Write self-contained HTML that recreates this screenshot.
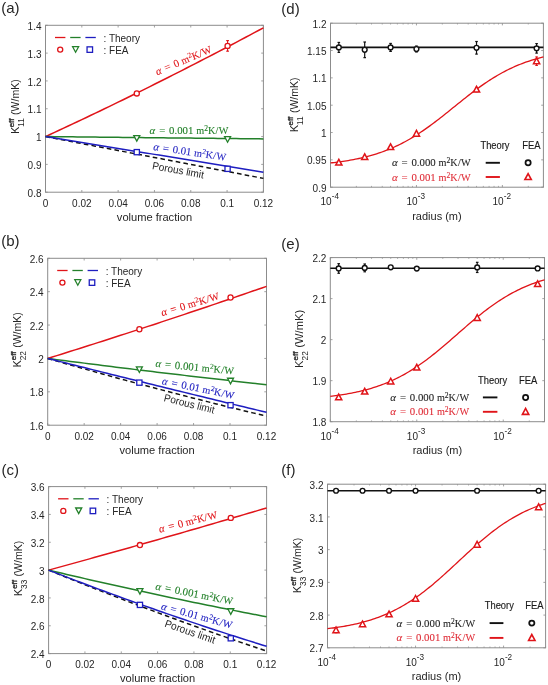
<!DOCTYPE html>
<html><head><meta charset="utf-8"><style>html,body{margin:0;padding:0;background:#fff;}svg{display:block;}</style></head>
<body><svg width="548" height="685" viewBox="0 0 548 685"><text x="1.20" y="12.90" font-family="'Liberation Sans', Arial, sans-serif" font-size="15" fill="#262626" text-anchor="start" >(a)</text>
<line x1="45.50" y1="192.20" x2="45.50" y2="190.00" stroke="#8c8c8c" stroke-width="0.8"/>
<line x1="45.50" y1="25.30" x2="45.50" y2="27.50" stroke="#8c8c8c" stroke-width="0.8"/>
<line x1="81.82" y1="192.20" x2="81.82" y2="190.00" stroke="#8c8c8c" stroke-width="0.8"/>
<line x1="81.82" y1="25.30" x2="81.82" y2="27.50" stroke="#8c8c8c" stroke-width="0.8"/>
<line x1="118.13" y1="192.20" x2="118.13" y2="190.00" stroke="#8c8c8c" stroke-width="0.8"/>
<line x1="118.13" y1="25.30" x2="118.13" y2="27.50" stroke="#8c8c8c" stroke-width="0.8"/>
<line x1="154.45" y1="192.20" x2="154.45" y2="190.00" stroke="#8c8c8c" stroke-width="0.8"/>
<line x1="154.45" y1="25.30" x2="154.45" y2="27.50" stroke="#8c8c8c" stroke-width="0.8"/>
<line x1="190.77" y1="192.20" x2="190.77" y2="190.00" stroke="#8c8c8c" stroke-width="0.8"/>
<line x1="190.77" y1="25.30" x2="190.77" y2="27.50" stroke="#8c8c8c" stroke-width="0.8"/>
<line x1="227.08" y1="192.20" x2="227.08" y2="190.00" stroke="#8c8c8c" stroke-width="0.8"/>
<line x1="227.08" y1="25.30" x2="227.08" y2="27.50" stroke="#8c8c8c" stroke-width="0.8"/>
<line x1="263.40" y1="192.20" x2="263.40" y2="190.00" stroke="#8c8c8c" stroke-width="0.8"/>
<line x1="263.40" y1="25.30" x2="263.40" y2="27.50" stroke="#8c8c8c" stroke-width="0.8"/>
<line x1="45.50" y1="192.20" x2="47.70" y2="192.20" stroke="#8c8c8c" stroke-width="0.8"/>
<line x1="263.40" y1="192.20" x2="261.20" y2="192.20" stroke="#8c8c8c" stroke-width="0.8"/>
<line x1="45.50" y1="164.38" x2="47.70" y2="164.38" stroke="#8c8c8c" stroke-width="0.8"/>
<line x1="263.40" y1="164.38" x2="261.20" y2="164.38" stroke="#8c8c8c" stroke-width="0.8"/>
<line x1="45.50" y1="136.57" x2="47.70" y2="136.57" stroke="#8c8c8c" stroke-width="0.8"/>
<line x1="263.40" y1="136.57" x2="261.20" y2="136.57" stroke="#8c8c8c" stroke-width="0.8"/>
<line x1="45.50" y1="108.75" x2="47.70" y2="108.75" stroke="#8c8c8c" stroke-width="0.8"/>
<line x1="263.40" y1="108.75" x2="261.20" y2="108.75" stroke="#8c8c8c" stroke-width="0.8"/>
<line x1="45.50" y1="80.93" x2="47.70" y2="80.93" stroke="#8c8c8c" stroke-width="0.8"/>
<line x1="263.40" y1="80.93" x2="261.20" y2="80.93" stroke="#8c8c8c" stroke-width="0.8"/>
<line x1="45.50" y1="53.12" x2="47.70" y2="53.12" stroke="#8c8c8c" stroke-width="0.8"/>
<line x1="263.40" y1="53.12" x2="261.20" y2="53.12" stroke="#8c8c8c" stroke-width="0.8"/>
<line x1="45.50" y1="25.30" x2="47.70" y2="25.30" stroke="#8c8c8c" stroke-width="0.8"/>
<line x1="263.40" y1="25.30" x2="261.20" y2="25.30" stroke="#8c8c8c" stroke-width="0.8"/>
<rect x="45.50" y="25.30" width="217.90" height="166.90" fill="none" stroke="#8c8c8c" stroke-width="1"/>
<text x="41.50" y="196.80" font-family="'Liberation Sans', Arial, sans-serif" font-size="10" fill="#262626" text-anchor="end" >0.8</text>
<text x="41.50" y="168.98" font-family="'Liberation Sans', Arial, sans-serif" font-size="10" fill="#262626" text-anchor="end" >0.9</text>
<text x="41.50" y="141.17" font-family="'Liberation Sans', Arial, sans-serif" font-size="10" fill="#262626" text-anchor="end" >1</text>
<text x="41.50" y="113.35" font-family="'Liberation Sans', Arial, sans-serif" font-size="10" fill="#262626" text-anchor="end" >1.1</text>
<text x="41.50" y="85.53" font-family="'Liberation Sans', Arial, sans-serif" font-size="10" fill="#262626" text-anchor="end" >1.2</text>
<text x="41.50" y="57.72" font-family="'Liberation Sans', Arial, sans-serif" font-size="10" fill="#262626" text-anchor="end" >1.3</text>
<text x="41.50" y="29.90" font-family="'Liberation Sans', Arial, sans-serif" font-size="10" fill="#262626" text-anchor="end" >1.4</text>
<text x="45.50" y="206.80" font-family="'Liberation Sans', Arial, sans-serif" font-size="10" fill="#262626" text-anchor="middle" >0</text>
<text x="81.82" y="206.80" font-family="'Liberation Sans', Arial, sans-serif" font-size="10" fill="#262626" text-anchor="middle" >0.02</text>
<text x="118.13" y="206.80" font-family="'Liberation Sans', Arial, sans-serif" font-size="10" fill="#262626" text-anchor="middle" >0.04</text>
<text x="154.45" y="206.80" font-family="'Liberation Sans', Arial, sans-serif" font-size="10" fill="#262626" text-anchor="middle" >0.06</text>
<text x="190.77" y="206.80" font-family="'Liberation Sans', Arial, sans-serif" font-size="10" fill="#262626" text-anchor="middle" >0.08</text>
<text x="227.08" y="206.80" font-family="'Liberation Sans', Arial, sans-serif" font-size="10" fill="#262626" text-anchor="middle" >0.1</text>
<text x="263.40" y="206.80" font-family="'Liberation Sans', Arial, sans-serif" font-size="10" fill="#262626" text-anchor="middle" >0.12</text>
<text x="154.45" y="220.80" font-family="'Liberation Sans', Arial, sans-serif" font-size="11.1" fill="#262626" text-anchor="middle" >volume fraction</text>
<text transform="translate(18.80,133.80) rotate(-90)" font-family="'Liberation Sans', Arial, sans-serif" font-size="10.5" fill="#262626">K<tspan font-size="8.3" dy="5.0">11</tspan><tspan font-size="8.0" dx="-9.2" dy="-9.9" stroke="#262626" stroke-width="0.3">eff</tspan><tspan dy="5.1" dx="0.8"> (W/mK)</tspan></text>
<polyline points="45.50,136.57 50.04,137.44 54.58,138.31 59.12,139.18 63.66,140.05 68.20,140.92 72.74,141.79 77.28,142.66 81.82,143.53 86.36,144.41 90.90,145.28 95.44,146.15 99.97,147.02 104.51,147.89 109.05,148.76 113.59,149.63 118.13,150.50 122.67,151.37 127.21,152.24 131.75,153.12 136.29,153.99 140.83,154.86 145.37,155.73 149.91,156.60 154.45,157.47 158.99,158.34 163.53,159.21 168.07,160.08 172.61,160.95 177.15,161.83 181.69,162.70 186.23,163.57 190.77,164.44 195.31,165.31 199.85,166.18 204.39,167.05 208.93,167.92 213.46,168.79 218.00,169.67 222.54,170.54 227.08,171.41 231.62,172.28 236.16,173.15 240.70,174.02 245.24,174.89 249.78,175.76 254.32,176.63 258.86,177.50 263.40,178.38" fill="none" stroke="#111111" stroke-width="1.5" stroke-dasharray="4.6,3.2"/>
<polyline points="45.50,136.57 50.04,134.47 54.58,132.37 59.12,130.26 63.66,128.14 68.20,126.02 72.74,123.89 77.28,121.75 81.82,119.61 86.36,117.45 90.90,115.29 95.44,113.12 99.97,110.95 104.51,108.77 109.05,106.58 113.59,104.38 118.13,102.18 122.67,99.97 127.21,97.75 131.75,95.52 136.29,93.29 140.83,91.05 145.37,88.80 149.91,86.55 154.45,84.29 158.99,82.02 163.53,79.74 168.07,77.46 172.61,75.17 177.15,72.87 181.69,70.56 186.23,68.25 190.77,65.93 195.31,63.60 199.85,61.27 204.39,58.93 208.93,56.58 213.46,54.22 218.00,51.86 222.54,49.49 227.08,47.11 231.62,44.72 236.16,42.33 240.70,39.93 245.24,37.52 249.78,35.11 254.32,32.69 258.86,30.26 263.40,27.82" fill="none" stroke="#e01419" stroke-width="1.5"/>
<polyline points="45.50,136.57 50.04,136.62 54.58,136.66 59.12,136.71 63.66,136.76 68.20,136.81 72.74,136.86 77.28,136.91 81.82,136.96 86.36,137.00 90.90,137.05 95.44,137.10 99.97,137.15 104.51,137.20 109.05,137.25 113.59,137.30 118.13,137.35 122.67,137.39 127.21,137.44 131.75,137.49 136.29,137.54 140.83,137.59 145.37,137.64 149.91,137.69 154.45,137.73 158.99,137.78 163.53,137.83 168.07,137.88 172.61,137.93 177.15,137.98 181.69,138.03 186.23,138.08 190.77,138.12 195.31,138.17 199.85,138.22 204.39,138.27 208.93,138.32 213.46,138.37 218.00,138.42 222.54,138.47 227.08,138.51 231.62,138.56 236.16,138.61 240.70,138.66 245.24,138.71 249.78,138.76 254.32,138.81 258.86,138.85 263.40,138.90" fill="none" stroke="#23802a" stroke-width="1.5"/>
<polyline points="45.50,136.57 50.04,137.31 54.58,138.05 59.12,138.79 63.66,139.53 68.20,140.28 72.74,141.02 77.28,141.76 81.82,142.50 86.36,143.24 90.90,143.98 95.44,144.73 99.97,145.47 104.51,146.21 109.05,146.95 113.59,147.69 118.13,148.44 122.67,149.18 127.21,149.92 131.75,150.66 136.29,151.40 140.83,152.14 145.37,152.89 149.91,153.63 154.45,154.37 158.99,155.11 163.53,155.85 168.07,156.60 172.61,157.34 177.15,158.08 181.69,158.82 186.23,159.56 190.77,160.30 195.31,161.05 199.85,161.79 204.39,162.53 208.93,163.27 213.46,164.01 218.00,164.76 222.54,165.50 227.08,166.24 231.62,166.98 236.16,167.72 240.70,168.46 245.24,169.21 249.78,169.95 254.32,170.69 258.86,171.43 263.40,172.17" fill="none" stroke="#1e1ec0" stroke-width="1.5"/>
<circle cx="136.79" cy="93.45" r="2.55" fill="white" stroke="#e01419" stroke-width="1.3"/>
<line x1="227.58" y1="40.60" x2="227.58" y2="51.17" stroke="#e01419" stroke-width="1.1"/>
<line x1="226.18" y1="40.60" x2="228.98" y2="40.60" stroke="#e01419" stroke-width="1.1"/>
<line x1="226.18" y1="51.17" x2="228.98" y2="51.17" stroke="#e01419" stroke-width="1.1"/>
<circle cx="227.58" cy="45.88" r="2.55" fill="white" stroke="#e01419" stroke-width="1.3"/>
<polygon points="133.79,135.56 139.79,135.56 136.79,141.11" fill="white" stroke="#23802a" stroke-width="1.3" stroke-linejoin="miter"/>
<polygon points="224.58,136.67 230.58,136.67 227.58,142.22" fill="white" stroke="#23802a" stroke-width="1.3" stroke-linejoin="miter"/>
<rect x="134.19" y="149.54" width="5.20" height="5.20" fill="white" stroke="#1e1ec0" stroke-width="1.3"/>
<rect x="224.98" y="166.23" width="5.20" height="5.20" fill="white" stroke="#1e1ec0" stroke-width="1.3"/>
<line x1="55.00" y1="37.50" x2="65.40" y2="37.50" stroke="#e01419" stroke-width="1.3"/>
<line x1="70.20" y1="37.50" x2="80.60" y2="37.50" stroke="#23802a" stroke-width="1.3"/>
<line x1="85.40" y1="37.50" x2="95.80" y2="37.50" stroke="#1e1ec0" stroke-width="1.3"/>
<circle cx="60.20" cy="49.60" r="2.55" fill="white" stroke="#e01419" stroke-width="1.3"/>
<polygon points="72.60,46.70 78.60,46.70 75.60,52.25" fill="white" stroke="#23802a" stroke-width="1.3" stroke-linejoin="miter"/>
<rect x="87.05" y="46.85" width="5.50" height="5.50" fill="white" stroke="#1e1ec0" stroke-width="1.3"/>
<text x="103.50" y="41.90" font-family="'Liberation Sans', Arial, sans-serif" font-size="10" fill="#262626" text-anchor="start" >: Theory</text>
<text x="103.50" y="54.00" font-family="'Liberation Sans', Arial, sans-serif" font-size="10" fill="#262626" text-anchor="start" >: FEA</text>
<text transform="translate(157.20,75.40) rotate(-23.00)" font-family="'Liberation Serif', 'DejaVu Serif', serif" font-size="10.8" fill="#e01419" stroke="#e01419" stroke-width="0.1"><tspan x="0" font-style="italic">α</tspan><tspan x="9.7">=</tspan><tspan x="19.5">0</tspan><tspan x="27.70" font-size="10.21">m</tspan><tspan font-size="7.56" dy="-3.4">2</tspan><tspan dy="3.4" font-size="10.21" letter-spacing="0.3">K/W</tspan></text>
<text transform="translate(149.60,134.30) rotate(0.00)" font-family="'Liberation Serif', 'DejaVu Serif', serif" font-size="10.8" fill="#23802a" stroke="#23802a" stroke-width="0.1"><tspan x="0" font-style="italic">α</tspan><tspan x="9.7">=</tspan><tspan x="19.5">0.001</tspan><tspan x="46.60" font-size="10.21">m</tspan><tspan font-size="7.56" dy="-3.4">2</tspan><tspan dy="3.4" font-size="10.21" letter-spacing="0.3">K/W</tspan></text>
<text transform="translate(152.90,150.00) rotate(8.30)" font-family="'Liberation Serif', 'DejaVu Serif', serif" font-size="10.8" fill="#1e1ec0" stroke="#1e1ec0" stroke-width="0.1"><tspan x="0" font-style="italic">α</tspan><tspan x="9.7">=</tspan><tspan x="19.5">0.01</tspan><tspan x="41.20" font-size="10.21">m</tspan><tspan font-size="7.56" dy="-3.4">2</tspan><tspan dy="3.4" font-size="10.21" letter-spacing="0.3">K/W</tspan></text>
<text transform="translate(151.80,169.00) rotate(10.40)" font-family="'Liberation Sans', Arial, sans-serif" font-size="10.6" fill="#1e1e1e" textLength="52.20" lengthAdjust="spacingAndGlyphs">Porous limit</text>
<text x="1.20" y="246.20" font-family="'Liberation Sans', Arial, sans-serif" font-size="15" fill="#262626" text-anchor="start" >(b)</text>
<line x1="47.70" y1="425.20" x2="47.70" y2="423.00" stroke="#8c8c8c" stroke-width="0.8"/>
<line x1="47.70" y1="258.30" x2="47.70" y2="260.50" stroke="#8c8c8c" stroke-width="0.8"/>
<line x1="84.17" y1="425.20" x2="84.17" y2="423.00" stroke="#8c8c8c" stroke-width="0.8"/>
<line x1="84.17" y1="258.30" x2="84.17" y2="260.50" stroke="#8c8c8c" stroke-width="0.8"/>
<line x1="120.63" y1="425.20" x2="120.63" y2="423.00" stroke="#8c8c8c" stroke-width="0.8"/>
<line x1="120.63" y1="258.30" x2="120.63" y2="260.50" stroke="#8c8c8c" stroke-width="0.8"/>
<line x1="157.10" y1="425.20" x2="157.10" y2="423.00" stroke="#8c8c8c" stroke-width="0.8"/>
<line x1="157.10" y1="258.30" x2="157.10" y2="260.50" stroke="#8c8c8c" stroke-width="0.8"/>
<line x1="193.57" y1="425.20" x2="193.57" y2="423.00" stroke="#8c8c8c" stroke-width="0.8"/>
<line x1="193.57" y1="258.30" x2="193.57" y2="260.50" stroke="#8c8c8c" stroke-width="0.8"/>
<line x1="230.03" y1="425.20" x2="230.03" y2="423.00" stroke="#8c8c8c" stroke-width="0.8"/>
<line x1="230.03" y1="258.30" x2="230.03" y2="260.50" stroke="#8c8c8c" stroke-width="0.8"/>
<line x1="266.50" y1="425.20" x2="266.50" y2="423.00" stroke="#8c8c8c" stroke-width="0.8"/>
<line x1="266.50" y1="258.30" x2="266.50" y2="260.50" stroke="#8c8c8c" stroke-width="0.8"/>
<line x1="47.70" y1="425.20" x2="49.90" y2="425.20" stroke="#8c8c8c" stroke-width="0.8"/>
<line x1="266.50" y1="425.20" x2="264.30" y2="425.20" stroke="#8c8c8c" stroke-width="0.8"/>
<line x1="47.70" y1="391.82" x2="49.90" y2="391.82" stroke="#8c8c8c" stroke-width="0.8"/>
<line x1="266.50" y1="391.82" x2="264.30" y2="391.82" stroke="#8c8c8c" stroke-width="0.8"/>
<line x1="47.70" y1="358.44" x2="49.90" y2="358.44" stroke="#8c8c8c" stroke-width="0.8"/>
<line x1="266.50" y1="358.44" x2="264.30" y2="358.44" stroke="#8c8c8c" stroke-width="0.8"/>
<line x1="47.70" y1="325.06" x2="49.90" y2="325.06" stroke="#8c8c8c" stroke-width="0.8"/>
<line x1="266.50" y1="325.06" x2="264.30" y2="325.06" stroke="#8c8c8c" stroke-width="0.8"/>
<line x1="47.70" y1="291.68" x2="49.90" y2="291.68" stroke="#8c8c8c" stroke-width="0.8"/>
<line x1="266.50" y1="291.68" x2="264.30" y2="291.68" stroke="#8c8c8c" stroke-width="0.8"/>
<line x1="47.70" y1="258.30" x2="49.90" y2="258.30" stroke="#8c8c8c" stroke-width="0.8"/>
<line x1="266.50" y1="258.30" x2="264.30" y2="258.30" stroke="#8c8c8c" stroke-width="0.8"/>
<rect x="47.70" y="258.30" width="218.80" height="166.90" fill="none" stroke="#8c8c8c" stroke-width="1"/>
<text x="43.70" y="429.80" font-family="'Liberation Sans', Arial, sans-serif" font-size="10" fill="#262626" text-anchor="end" >1.6</text>
<text x="43.70" y="396.42" font-family="'Liberation Sans', Arial, sans-serif" font-size="10" fill="#262626" text-anchor="end" >1.8</text>
<text x="43.70" y="363.04" font-family="'Liberation Sans', Arial, sans-serif" font-size="10" fill="#262626" text-anchor="end" >2</text>
<text x="43.70" y="329.66" font-family="'Liberation Sans', Arial, sans-serif" font-size="10" fill="#262626" text-anchor="end" >2.2</text>
<text x="43.70" y="296.28" font-family="'Liberation Sans', Arial, sans-serif" font-size="10" fill="#262626" text-anchor="end" >2.4</text>
<text x="43.70" y="262.90" font-family="'Liberation Sans', Arial, sans-serif" font-size="10" fill="#262626" text-anchor="end" >2.6</text>
<text x="47.70" y="439.80" font-family="'Liberation Sans', Arial, sans-serif" font-size="10" fill="#262626" text-anchor="middle" >0</text>
<text x="84.17" y="439.80" font-family="'Liberation Sans', Arial, sans-serif" font-size="10" fill="#262626" text-anchor="middle" >0.02</text>
<text x="120.63" y="439.80" font-family="'Liberation Sans', Arial, sans-serif" font-size="10" fill="#262626" text-anchor="middle" >0.04</text>
<text x="157.10" y="439.80" font-family="'Liberation Sans', Arial, sans-serif" font-size="10" fill="#262626" text-anchor="middle" >0.06</text>
<text x="193.57" y="439.80" font-family="'Liberation Sans', Arial, sans-serif" font-size="10" fill="#262626" text-anchor="middle" >0.08</text>
<text x="230.03" y="439.80" font-family="'Liberation Sans', Arial, sans-serif" font-size="10" fill="#262626" text-anchor="middle" >0.1</text>
<text x="266.50" y="439.80" font-family="'Liberation Sans', Arial, sans-serif" font-size="10" fill="#262626" text-anchor="middle" >0.12</text>
<text x="157.10" y="453.80" font-family="'Liberation Sans', Arial, sans-serif" font-size="11.1" fill="#262626" text-anchor="middle" >volume fraction</text>
<text transform="translate(20.80,367.30) rotate(-90)" font-family="'Liberation Sans', Arial, sans-serif" font-size="10.5" fill="#262626">K<tspan font-size="8.3" dy="5.0">22</tspan><tspan font-size="8.0" dx="-9.2" dy="-9.9" stroke="#262626" stroke-width="0.3">eff</tspan><tspan dy="5.1" dx="0.8"> (W/mK)</tspan></text>
<polyline points="47.70,358.44 52.26,359.76 56.82,361.07 61.38,362.37 65.93,363.67 70.49,364.97 75.05,366.26 79.61,367.55 84.17,368.83 88.73,370.11 93.28,371.38 97.84,372.65 102.40,373.91 106.96,375.17 111.52,376.42 116.08,377.67 120.63,378.91 125.19,380.15 129.75,381.38 134.31,382.61 138.87,383.84 143.43,385.06 147.98,386.27 152.54,387.48 157.10,388.69 161.66,389.89 166.22,391.08 170.77,392.27 175.33,393.46 179.89,394.64 184.45,395.81 189.01,396.99 193.57,398.15 198.13,399.31 202.68,400.47 207.24,401.62 211.80,402.77 216.36,403.91 220.92,405.05 225.47,406.18 230.03,407.31 234.59,408.43 239.15,409.55 243.71,410.66 248.27,411.77 252.82,412.87 257.38,413.97 261.94,415.07 266.50,416.16" fill="none" stroke="#111111" stroke-width="1.5" stroke-dasharray="4.6,3.2"/>
<polyline points="47.70,358.44 52.26,357.02 56.82,355.60 61.38,354.17 65.93,352.75 70.49,351.31 75.05,349.88 79.61,348.44 84.17,346.99 88.73,345.55 93.28,344.10 97.84,342.64 102.40,341.18 106.96,339.72 111.52,338.26 116.08,336.79 120.63,335.32 125.19,333.84 129.75,332.36 134.31,330.88 138.87,329.40 143.43,327.91 147.98,326.41 152.54,324.92 157.10,323.42 161.66,321.91 166.22,320.40 170.77,318.89 175.33,317.38 179.89,315.86 184.45,314.34 189.01,312.81 193.57,311.28 198.13,309.75 202.68,308.21 207.24,306.68 211.80,305.13 216.36,303.59 220.92,302.03 225.47,300.48 230.03,298.92 234.59,297.36 239.15,295.80 243.71,294.23 248.27,292.66 252.82,291.08 257.38,289.50 261.94,287.92 266.50,286.34" fill="none" stroke="#e01419" stroke-width="1.5"/>
<polyline points="47.70,358.44 52.26,359.03 56.82,359.63 61.38,360.22 65.93,360.80 70.49,361.39 75.05,361.97 79.61,362.55 84.17,363.13 88.73,363.71 93.28,364.29 97.84,364.86 102.40,365.43 106.96,366.00 111.52,366.57 116.08,367.14 120.63,367.70 125.19,368.26 129.75,368.82 134.31,369.38 138.87,369.93 143.43,370.49 147.98,371.04 152.54,371.59 157.10,372.14 161.66,372.68 166.22,373.23 170.77,373.77 175.33,374.31 179.89,374.84 184.45,375.38 189.01,375.91 193.57,376.45 198.13,376.97 202.68,377.50 207.24,378.03 211.80,378.55 216.36,379.07 220.92,379.59 225.47,380.11 230.03,380.62 234.59,381.14 239.15,381.65 243.71,382.16 248.27,382.67 252.82,383.17 257.38,383.67 261.94,384.18 266.50,384.67" fill="none" stroke="#23802a" stroke-width="1.5"/>
<polyline points="47.70,358.44 52.26,359.59 56.82,360.73 61.38,361.88 65.93,363.02 70.49,364.16 75.05,365.31 79.61,366.45 84.17,367.59 88.73,368.72 93.28,369.86 97.84,371.00 102.40,372.13 106.96,373.27 111.52,374.40 116.08,375.53 120.63,376.67 125.19,377.80 129.75,378.92 134.31,380.05 138.87,381.18 143.43,382.31 147.98,383.43 152.54,384.56 157.10,385.68 161.66,386.80 166.22,387.92 170.77,389.04 175.33,390.16 179.89,391.28 184.45,392.39 189.01,393.51 193.57,394.62 198.13,395.74 202.68,396.85 207.24,397.96 211.80,399.07 216.36,400.18 220.92,401.29 225.47,402.40 230.03,403.50 234.59,404.61 239.15,405.71 243.71,406.82 248.27,407.92 252.82,409.02 257.38,410.12 261.94,411.22 266.50,412.32" fill="none" stroke="#1e1ec0" stroke-width="1.5"/>
<circle cx="139.37" cy="329.23" r="2.55" fill="white" stroke="#e01419" stroke-width="1.3"/>
<circle cx="230.53" cy="297.52" r="2.55" fill="white" stroke="#e01419" stroke-width="1.3"/>
<polygon points="136.37,366.89 142.37,366.89 139.37,372.44" fill="white" stroke="#23802a" stroke-width="1.3" stroke-linejoin="miter"/>
<polygon points="227.53,378.24 233.53,378.24 230.53,383.79" fill="white" stroke="#23802a" stroke-width="1.3" stroke-linejoin="miter"/>
<rect x="136.77" y="380.04" width="5.20" height="5.20" fill="white" stroke="#1e1ec0" stroke-width="1.3"/>
<rect x="227.93" y="402.57" width="5.20" height="5.20" fill="white" stroke="#1e1ec0" stroke-width="1.3"/>
<line x1="57.20" y1="270.50" x2="67.60" y2="270.50" stroke="#e01419" stroke-width="1.3"/>
<line x1="72.40" y1="270.50" x2="82.80" y2="270.50" stroke="#23802a" stroke-width="1.3"/>
<line x1="87.60" y1="270.50" x2="98.00" y2="270.50" stroke="#1e1ec0" stroke-width="1.3"/>
<circle cx="62.40" cy="282.60" r="2.55" fill="white" stroke="#e01419" stroke-width="1.3"/>
<polygon points="74.80,279.70 80.80,279.70 77.80,285.25" fill="white" stroke="#23802a" stroke-width="1.3" stroke-linejoin="miter"/>
<rect x="89.25" y="279.85" width="5.50" height="5.50" fill="white" stroke="#1e1ec0" stroke-width="1.3"/>
<text x="105.70" y="274.90" font-family="'Liberation Sans', Arial, sans-serif" font-size="10" fill="#262626" text-anchor="start" >: Theory</text>
<text x="105.70" y="287.00" font-family="'Liberation Sans', Arial, sans-serif" font-size="10" fill="#262626" text-anchor="start" >: FEA</text>
<text transform="translate(162.30,316.30) rotate(-16.70)" font-family="'Liberation Serif', 'DejaVu Serif', serif" font-size="10.8" fill="#e01419" stroke="#e01419" stroke-width="0.1"><tspan x="0" font-style="italic">α</tspan><tspan x="9.7">=</tspan><tspan x="19.5">0</tspan><tspan x="27.70" font-size="10.21">m</tspan><tspan font-size="7.56" dy="-3.4">2</tspan><tspan dy="3.4" font-size="10.21" letter-spacing="0.3">K/W</tspan></text>
<text transform="translate(155.20,366.80) rotate(5.50)" font-family="'Liberation Serif', 'DejaVu Serif', serif" font-size="10.8" fill="#23802a" stroke="#23802a" stroke-width="0.1"><tspan x="0" font-style="italic">α</tspan><tspan x="9.7">=</tspan><tspan x="19.5">0.001</tspan><tspan x="46.60" font-size="10.21">m</tspan><tspan font-size="7.56" dy="-3.4">2</tspan><tspan dy="3.4" font-size="10.21" letter-spacing="0.3">K/W</tspan></text>
<text transform="translate(161.60,384.20) rotate(11.60)" font-family="'Liberation Serif', 'DejaVu Serif', serif" font-size="10.8" fill="#1e1ec0" stroke="#1e1ec0" stroke-width="0.1"><tspan x="0" font-style="italic">α</tspan><tspan x="9.7">=</tspan><tspan x="19.5">0.01</tspan><tspan x="41.20" font-size="10.21">m</tspan><tspan font-size="7.56" dy="-3.4">2</tspan><tspan dy="3.4" font-size="10.21" letter-spacing="0.3">K/W</tspan></text>
<text transform="translate(163.20,401.00) rotate(14.00)" font-family="'Liberation Sans', Arial, sans-serif" font-size="10.6" fill="#1e1e1e" textLength="52.00" lengthAdjust="spacingAndGlyphs">Porous limit</text>
<text x="1.60" y="474.50" font-family="'Liberation Sans', Arial, sans-serif" font-size="15" fill="#262626" text-anchor="start" >(c)</text>
<line x1="48.60" y1="653.60" x2="48.60" y2="651.40" stroke="#8c8c8c" stroke-width="0.8"/>
<line x1="48.60" y1="486.60" x2="48.60" y2="488.80" stroke="#8c8c8c" stroke-width="0.8"/>
<line x1="84.93" y1="653.60" x2="84.93" y2="651.40" stroke="#8c8c8c" stroke-width="0.8"/>
<line x1="84.93" y1="486.60" x2="84.93" y2="488.80" stroke="#8c8c8c" stroke-width="0.8"/>
<line x1="121.27" y1="653.60" x2="121.27" y2="651.40" stroke="#8c8c8c" stroke-width="0.8"/>
<line x1="121.27" y1="486.60" x2="121.27" y2="488.80" stroke="#8c8c8c" stroke-width="0.8"/>
<line x1="157.60" y1="653.60" x2="157.60" y2="651.40" stroke="#8c8c8c" stroke-width="0.8"/>
<line x1="157.60" y1="486.60" x2="157.60" y2="488.80" stroke="#8c8c8c" stroke-width="0.8"/>
<line x1="193.93" y1="653.60" x2="193.93" y2="651.40" stroke="#8c8c8c" stroke-width="0.8"/>
<line x1="193.93" y1="486.60" x2="193.93" y2="488.80" stroke="#8c8c8c" stroke-width="0.8"/>
<line x1="230.27" y1="653.60" x2="230.27" y2="651.40" stroke="#8c8c8c" stroke-width="0.8"/>
<line x1="230.27" y1="486.60" x2="230.27" y2="488.80" stroke="#8c8c8c" stroke-width="0.8"/>
<line x1="266.60" y1="653.60" x2="266.60" y2="651.40" stroke="#8c8c8c" stroke-width="0.8"/>
<line x1="266.60" y1="486.60" x2="266.60" y2="488.80" stroke="#8c8c8c" stroke-width="0.8"/>
<line x1="48.60" y1="653.60" x2="50.80" y2="653.60" stroke="#8c8c8c" stroke-width="0.8"/>
<line x1="266.60" y1="653.60" x2="264.40" y2="653.60" stroke="#8c8c8c" stroke-width="0.8"/>
<line x1="48.60" y1="625.77" x2="50.80" y2="625.77" stroke="#8c8c8c" stroke-width="0.8"/>
<line x1="266.60" y1="625.77" x2="264.40" y2="625.77" stroke="#8c8c8c" stroke-width="0.8"/>
<line x1="48.60" y1="597.93" x2="50.80" y2="597.93" stroke="#8c8c8c" stroke-width="0.8"/>
<line x1="266.60" y1="597.93" x2="264.40" y2="597.93" stroke="#8c8c8c" stroke-width="0.8"/>
<line x1="48.60" y1="570.10" x2="50.80" y2="570.10" stroke="#8c8c8c" stroke-width="0.8"/>
<line x1="266.60" y1="570.10" x2="264.40" y2="570.10" stroke="#8c8c8c" stroke-width="0.8"/>
<line x1="48.60" y1="542.27" x2="50.80" y2="542.27" stroke="#8c8c8c" stroke-width="0.8"/>
<line x1="266.60" y1="542.27" x2="264.40" y2="542.27" stroke="#8c8c8c" stroke-width="0.8"/>
<line x1="48.60" y1="514.43" x2="50.80" y2="514.43" stroke="#8c8c8c" stroke-width="0.8"/>
<line x1="266.60" y1="514.43" x2="264.40" y2="514.43" stroke="#8c8c8c" stroke-width="0.8"/>
<line x1="48.60" y1="486.60" x2="50.80" y2="486.60" stroke="#8c8c8c" stroke-width="0.8"/>
<line x1="266.60" y1="486.60" x2="264.40" y2="486.60" stroke="#8c8c8c" stroke-width="0.8"/>
<rect x="48.60" y="486.60" width="218.00" height="167.00" fill="none" stroke="#8c8c8c" stroke-width="1"/>
<text x="44.60" y="658.20" font-family="'Liberation Sans', Arial, sans-serif" font-size="10" fill="#262626" text-anchor="end" >2.4</text>
<text x="44.60" y="630.37" font-family="'Liberation Sans', Arial, sans-serif" font-size="10" fill="#262626" text-anchor="end" >2.6</text>
<text x="44.60" y="602.53" font-family="'Liberation Sans', Arial, sans-serif" font-size="10" fill="#262626" text-anchor="end" >2.8</text>
<text x="44.60" y="574.70" font-family="'Liberation Sans', Arial, sans-serif" font-size="10" fill="#262626" text-anchor="end" >3</text>
<text x="44.60" y="546.87" font-family="'Liberation Sans', Arial, sans-serif" font-size="10" fill="#262626" text-anchor="end" >3.2</text>
<text x="44.60" y="519.03" font-family="'Liberation Sans', Arial, sans-serif" font-size="10" fill="#262626" text-anchor="end" >3.4</text>
<text x="44.60" y="491.20" font-family="'Liberation Sans', Arial, sans-serif" font-size="10" fill="#262626" text-anchor="end" >3.6</text>
<text x="48.60" y="668.20" font-family="'Liberation Sans', Arial, sans-serif" font-size="10" fill="#262626" text-anchor="middle" >0</text>
<text x="84.93" y="668.20" font-family="'Liberation Sans', Arial, sans-serif" font-size="10" fill="#262626" text-anchor="middle" >0.02</text>
<text x="121.27" y="668.20" font-family="'Liberation Sans', Arial, sans-serif" font-size="10" fill="#262626" text-anchor="middle" >0.04</text>
<text x="157.60" y="668.20" font-family="'Liberation Sans', Arial, sans-serif" font-size="10" fill="#262626" text-anchor="middle" >0.06</text>
<text x="193.93" y="668.20" font-family="'Liberation Sans', Arial, sans-serif" font-size="10" fill="#262626" text-anchor="middle" >0.08</text>
<text x="230.27" y="668.20" font-family="'Liberation Sans', Arial, sans-serif" font-size="10" fill="#262626" text-anchor="middle" >0.1</text>
<text x="266.60" y="668.20" font-family="'Liberation Sans', Arial, sans-serif" font-size="10" fill="#262626" text-anchor="middle" >0.12</text>
<text x="157.60" y="682.20" font-family="'Liberation Sans', Arial, sans-serif" font-size="11.1" fill="#262626" text-anchor="middle" >volume fraction</text>
<text transform="translate(21.50,595.90) rotate(-90)" font-family="'Liberation Sans', Arial, sans-serif" font-size="10.5" fill="#262626">K<tspan font-size="8.3" dy="5.0">33</tspan><tspan font-size="8.0" dx="-9.2" dy="-9.9" stroke="#262626" stroke-width="0.3">eff</tspan><tspan dy="5.1" dx="0.8"> (W/mK)</tspan></text>
<polyline points="48.60,570.10 53.14,571.95 57.68,573.79 62.23,575.63 66.77,577.46 71.31,579.28 75.85,581.10 80.39,582.91 84.93,584.71 89.48,586.51 94.02,588.29 98.56,590.07 103.10,591.85 107.64,593.62 112.18,595.38 116.73,597.13 121.27,598.88 125.81,600.62 130.35,602.35 134.89,604.07 139.43,605.79 143.98,607.51 148.52,609.21 153.06,610.91 157.60,612.60 162.14,614.28 166.68,615.96 171.22,617.63 175.77,619.29 180.31,620.95 184.85,622.60 189.39,624.24 193.93,625.88 198.48,627.51 203.02,629.13 207.56,630.74 212.10,632.35 216.64,633.95 221.18,635.54 225.72,637.13 230.27,638.71 234.81,640.29 239.35,641.85 243.89,643.41 248.43,644.96 252.97,646.51 257.52,648.05 262.06,649.58 266.60,651.10" fill="none" stroke="#111111" stroke-width="1.5" stroke-dasharray="4.6,3.2"/>
<polyline points="48.60,570.10 53.14,568.86 57.68,567.62 62.23,566.37 66.77,565.12 71.31,563.87 75.85,562.62 80.39,561.37 84.93,560.11 89.48,558.85 94.02,557.59 98.56,556.32 103.10,555.06 107.64,553.79 112.18,552.52 116.73,551.24 121.27,549.97 125.81,548.69 130.35,547.41 134.89,546.13 139.43,544.84 143.98,543.56 148.52,542.27 153.06,540.97 157.60,539.68 162.14,538.38 166.68,537.09 171.22,535.78 175.77,534.48 180.31,533.18 184.85,531.87 189.39,530.56 193.93,529.24 198.48,527.93 203.02,526.61 207.56,525.29 212.10,523.97 216.64,522.65 221.18,521.32 225.72,519.99 230.27,518.66 234.81,517.32 239.35,515.99 243.89,514.65 248.43,513.31 252.97,511.97 257.52,510.62 262.06,509.27 266.60,507.92" fill="none" stroke="#e01419" stroke-width="1.5"/>
<polyline points="48.60,570.10 53.14,571.18 57.68,572.26 62.23,573.33 66.77,574.40 71.31,575.46 75.85,576.52 80.39,577.57 84.93,578.62 89.48,579.67 94.02,580.71 98.56,581.74 103.10,582.77 107.64,583.80 112.18,584.82 116.73,585.83 121.27,586.84 125.81,587.85 130.35,588.85 134.89,589.85 139.43,590.85 143.98,591.83 148.52,592.82 153.06,593.80 157.60,594.77 162.14,595.74 166.68,596.71 171.22,597.67 175.77,598.62 180.31,599.57 184.85,600.52 189.39,601.46 193.93,602.40 198.48,603.33 203.02,604.26 207.56,605.18 212.10,606.10 216.64,607.02 221.18,607.93 225.72,608.83 230.27,609.73 234.81,610.63 239.35,611.52 243.89,612.40 248.43,613.28 252.97,614.16 257.52,615.03 262.06,615.90 266.60,616.76" fill="none" stroke="#23802a" stroke-width="1.5"/>
<polyline points="48.60,570.10 53.14,571.87 57.68,573.63 62.23,575.38 66.77,577.13 71.31,578.87 75.85,580.60 80.39,582.32 84.93,584.03 89.48,585.74 94.02,587.44 98.56,589.13 103.10,590.82 107.64,592.49 112.18,594.16 116.73,595.82 121.27,597.47 125.81,599.12 130.35,600.76 134.89,602.39 139.43,604.01 143.98,605.63 148.52,607.23 153.06,608.83 157.60,610.43 162.14,612.01 166.68,613.59 171.22,615.16 175.77,616.72 180.31,618.27 184.85,619.82 189.39,621.36 193.93,622.89 198.48,624.41 203.02,625.92 207.56,627.43 212.10,628.93 216.64,630.42 221.18,631.91 225.72,633.39 230.27,634.86 234.81,636.32 239.35,637.77 243.89,639.22 248.43,640.66 252.97,642.09 257.52,643.51 262.06,644.93 266.60,646.33" fill="none" stroke="#1e1ec0" stroke-width="1.5"/>
<circle cx="139.93" cy="545.05" r="2.55" fill="white" stroke="#e01419" stroke-width="1.3"/>
<circle cx="230.77" cy="517.91" r="2.55" fill="white" stroke="#e01419" stroke-width="1.3"/>
<polygon points="136.93,588.58 142.93,588.58 139.93,594.12" fill="white" stroke="#23802a" stroke-width="1.3" stroke-linejoin="miter"/>
<polygon points="227.77,608.75 233.77,608.75 230.77,614.30" fill="white" stroke="#23802a" stroke-width="1.3" stroke-linejoin="miter"/>
<rect x="137.33" y="602.29" width="5.20" height="5.20" fill="white" stroke="#1e1ec0" stroke-width="1.3"/>
<rect x="228.17" y="635.69" width="5.20" height="5.20" fill="white" stroke="#1e1ec0" stroke-width="1.3"/>
<line x1="58.10" y1="498.80" x2="68.50" y2="498.80" stroke="#e01419" stroke-width="1.3"/>
<line x1="73.30" y1="498.80" x2="83.70" y2="498.80" stroke="#23802a" stroke-width="1.3"/>
<line x1="88.50" y1="498.80" x2="98.90" y2="498.80" stroke="#1e1ec0" stroke-width="1.3"/>
<circle cx="63.30" cy="510.90" r="2.55" fill="white" stroke="#e01419" stroke-width="1.3"/>
<polygon points="75.70,508.00 81.70,508.00 78.70,513.55" fill="white" stroke="#23802a" stroke-width="1.3" stroke-linejoin="miter"/>
<rect x="90.15" y="508.15" width="5.50" height="5.50" fill="white" stroke="#1e1ec0" stroke-width="1.3"/>
<text x="106.60" y="503.20" font-family="'Liberation Sans', Arial, sans-serif" font-size="10" fill="#262626" text-anchor="start" >: Theory</text>
<text x="106.60" y="515.30" font-family="'Liberation Sans', Arial, sans-serif" font-size="10" fill="#262626" text-anchor="start" >: FEA</text>
<text transform="translate(159.80,532.80) rotate(-14.60)" font-family="'Liberation Serif', 'DejaVu Serif', serif" font-size="10.8" fill="#e01419" stroke="#e01419" stroke-width="0.1"><tspan x="0" font-style="italic">α</tspan><tspan x="9.7">=</tspan><tspan x="19.5">0</tspan><tspan x="27.70" font-size="10.21">m</tspan><tspan font-size="7.56" dy="-3.4">2</tspan><tspan dy="3.4" font-size="10.21" letter-spacing="0.3">K/W</tspan></text>
<text transform="translate(155.00,589.50) rotate(11.10)" font-family="'Liberation Serif', 'DejaVu Serif', serif" font-size="10.8" fill="#23802a" stroke="#23802a" stroke-width="0.1"><tspan x="0" font-style="italic">α</tspan><tspan x="9.7">=</tspan><tspan x="19.5">0.001</tspan><tspan x="46.60" font-size="10.21">m</tspan><tspan font-size="7.56" dy="-3.4">2</tspan><tspan dy="3.4" font-size="10.21" letter-spacing="0.3">K/W</tspan></text>
<text transform="translate(160.50,609.20) rotate(15.30)" font-family="'Liberation Serif', 'DejaVu Serif', serif" font-size="10.8" fill="#1e1ec0" stroke="#1e1ec0" stroke-width="0.1"><tspan x="0" font-style="italic">α</tspan><tspan x="9.7">=</tspan><tspan x="19.5">0.01</tspan><tspan x="41.20" font-size="10.21">m</tspan><tspan font-size="7.56" dy="-3.4">2</tspan><tspan dy="3.4" font-size="10.21" letter-spacing="0.3">K/W</tspan></text>
<text transform="translate(164.00,626.40) rotate(19.10)" font-family="'Liberation Sans', Arial, sans-serif" font-size="10.6" fill="#1e1e1e" textLength="52.80" lengthAdjust="spacingAndGlyphs">Porous limit</text>
<text x="281.30" y="13.60" font-family="'Liberation Sans', Arial, sans-serif" font-size="15" fill="#262626" text-anchor="start" >(d)</text>
<line x1="330.50" y1="187.20" x2="330.50" y2="185.00" stroke="#8c8c8c" stroke-width="0.8"/>
<line x1="330.50" y1="23.20" x2="330.50" y2="25.40" stroke="#8c8c8c" stroke-width="0.8"/>
<line x1="416.45" y1="187.20" x2="416.45" y2="185.00" stroke="#8c8c8c" stroke-width="0.8"/>
<line x1="416.45" y1="23.20" x2="416.45" y2="25.40" stroke="#8c8c8c" stroke-width="0.8"/>
<line x1="502.39" y1="187.20" x2="502.39" y2="185.00" stroke="#8c8c8c" stroke-width="0.8"/>
<line x1="502.39" y1="23.20" x2="502.39" y2="25.40" stroke="#8c8c8c" stroke-width="0.8"/>
<line x1="356.37" y1="187.20" x2="356.37" y2="185.88" stroke="#8c8c8c" stroke-width="0.7"/>
<line x1="356.37" y1="23.20" x2="356.37" y2="24.52" stroke="#8c8c8c" stroke-width="0.7"/>
<line x1="371.51" y1="187.20" x2="371.51" y2="185.88" stroke="#8c8c8c" stroke-width="0.7"/>
<line x1="371.51" y1="23.20" x2="371.51" y2="24.52" stroke="#8c8c8c" stroke-width="0.7"/>
<line x1="382.24" y1="187.20" x2="382.24" y2="185.88" stroke="#8c8c8c" stroke-width="0.7"/>
<line x1="382.24" y1="23.20" x2="382.24" y2="24.52" stroke="#8c8c8c" stroke-width="0.7"/>
<line x1="390.57" y1="187.20" x2="390.57" y2="185.88" stroke="#8c8c8c" stroke-width="0.7"/>
<line x1="390.57" y1="23.20" x2="390.57" y2="24.52" stroke="#8c8c8c" stroke-width="0.7"/>
<line x1="397.38" y1="187.20" x2="397.38" y2="185.88" stroke="#8c8c8c" stroke-width="0.7"/>
<line x1="397.38" y1="23.20" x2="397.38" y2="24.52" stroke="#8c8c8c" stroke-width="0.7"/>
<line x1="403.13" y1="187.20" x2="403.13" y2="185.88" stroke="#8c8c8c" stroke-width="0.7"/>
<line x1="403.13" y1="23.20" x2="403.13" y2="24.52" stroke="#8c8c8c" stroke-width="0.7"/>
<line x1="408.12" y1="187.20" x2="408.12" y2="185.88" stroke="#8c8c8c" stroke-width="0.7"/>
<line x1="408.12" y1="23.20" x2="408.12" y2="24.52" stroke="#8c8c8c" stroke-width="0.7"/>
<line x1="412.51" y1="187.20" x2="412.51" y2="185.88" stroke="#8c8c8c" stroke-width="0.7"/>
<line x1="412.51" y1="23.20" x2="412.51" y2="24.52" stroke="#8c8c8c" stroke-width="0.7"/>
<line x1="442.32" y1="187.20" x2="442.32" y2="185.88" stroke="#8c8c8c" stroke-width="0.7"/>
<line x1="442.32" y1="23.20" x2="442.32" y2="24.52" stroke="#8c8c8c" stroke-width="0.7"/>
<line x1="457.45" y1="187.20" x2="457.45" y2="185.88" stroke="#8c8c8c" stroke-width="0.7"/>
<line x1="457.45" y1="23.20" x2="457.45" y2="24.52" stroke="#8c8c8c" stroke-width="0.7"/>
<line x1="468.19" y1="187.20" x2="468.19" y2="185.88" stroke="#8c8c8c" stroke-width="0.7"/>
<line x1="468.19" y1="23.20" x2="468.19" y2="24.52" stroke="#8c8c8c" stroke-width="0.7"/>
<line x1="476.52" y1="187.20" x2="476.52" y2="185.88" stroke="#8c8c8c" stroke-width="0.7"/>
<line x1="476.52" y1="23.20" x2="476.52" y2="24.52" stroke="#8c8c8c" stroke-width="0.7"/>
<line x1="483.33" y1="187.20" x2="483.33" y2="185.88" stroke="#8c8c8c" stroke-width="0.7"/>
<line x1="483.33" y1="23.20" x2="483.33" y2="24.52" stroke="#8c8c8c" stroke-width="0.7"/>
<line x1="489.08" y1="187.20" x2="489.08" y2="185.88" stroke="#8c8c8c" stroke-width="0.7"/>
<line x1="489.08" y1="23.20" x2="489.08" y2="24.52" stroke="#8c8c8c" stroke-width="0.7"/>
<line x1="494.06" y1="187.20" x2="494.06" y2="185.88" stroke="#8c8c8c" stroke-width="0.7"/>
<line x1="494.06" y1="23.20" x2="494.06" y2="24.52" stroke="#8c8c8c" stroke-width="0.7"/>
<line x1="498.46" y1="187.20" x2="498.46" y2="185.88" stroke="#8c8c8c" stroke-width="0.7"/>
<line x1="498.46" y1="23.20" x2="498.46" y2="24.52" stroke="#8c8c8c" stroke-width="0.7"/>
<line x1="528.27" y1="187.20" x2="528.27" y2="185.88" stroke="#8c8c8c" stroke-width="0.7"/>
<line x1="528.27" y1="23.20" x2="528.27" y2="24.52" stroke="#8c8c8c" stroke-width="0.7"/>
<line x1="543.40" y1="187.20" x2="543.40" y2="185.88" stroke="#8c8c8c" stroke-width="0.7"/>
<line x1="543.40" y1="23.20" x2="543.40" y2="24.52" stroke="#8c8c8c" stroke-width="0.7"/>
<line x1="330.50" y1="187.20" x2="332.70" y2="187.20" stroke="#8c8c8c" stroke-width="0.8"/>
<line x1="543.40" y1="187.20" x2="541.20" y2="187.20" stroke="#8c8c8c" stroke-width="0.8"/>
<line x1="330.50" y1="159.87" x2="332.70" y2="159.87" stroke="#8c8c8c" stroke-width="0.8"/>
<line x1="543.40" y1="159.87" x2="541.20" y2="159.87" stroke="#8c8c8c" stroke-width="0.8"/>
<line x1="330.50" y1="132.53" x2="332.70" y2="132.53" stroke="#8c8c8c" stroke-width="0.8"/>
<line x1="543.40" y1="132.53" x2="541.20" y2="132.53" stroke="#8c8c8c" stroke-width="0.8"/>
<line x1="330.50" y1="105.20" x2="332.70" y2="105.20" stroke="#8c8c8c" stroke-width="0.8"/>
<line x1="543.40" y1="105.20" x2="541.20" y2="105.20" stroke="#8c8c8c" stroke-width="0.8"/>
<line x1="330.50" y1="77.87" x2="332.70" y2="77.87" stroke="#8c8c8c" stroke-width="0.8"/>
<line x1="543.40" y1="77.87" x2="541.20" y2="77.87" stroke="#8c8c8c" stroke-width="0.8"/>
<line x1="330.50" y1="50.53" x2="332.70" y2="50.53" stroke="#8c8c8c" stroke-width="0.8"/>
<line x1="543.40" y1="50.53" x2="541.20" y2="50.53" stroke="#8c8c8c" stroke-width="0.8"/>
<line x1="330.50" y1="23.20" x2="332.70" y2="23.20" stroke="#8c8c8c" stroke-width="0.8"/>
<line x1="543.40" y1="23.20" x2="541.20" y2="23.20" stroke="#8c8c8c" stroke-width="0.8"/>
<rect x="330.50" y="23.20" width="212.90" height="164.00" fill="none" stroke="#8c8c8c" stroke-width="1"/>
<text x="326.50" y="191.80" font-family="'Liberation Sans', Arial, sans-serif" font-size="10" fill="#262626" text-anchor="end" >0.9</text>
<text x="326.50" y="164.47" font-family="'Liberation Sans', Arial, sans-serif" font-size="10" fill="#262626" text-anchor="end" >0.95</text>
<text x="326.50" y="137.13" font-family="'Liberation Sans', Arial, sans-serif" font-size="10" fill="#262626" text-anchor="end" >1</text>
<text x="326.50" y="109.80" font-family="'Liberation Sans', Arial, sans-serif" font-size="10" fill="#262626" text-anchor="end" >1.05</text>
<text x="326.50" y="82.47" font-family="'Liberation Sans', Arial, sans-serif" font-size="10" fill="#262626" text-anchor="end" >1.1</text>
<text x="326.50" y="55.13" font-family="'Liberation Sans', Arial, sans-serif" font-size="10" fill="#262626" text-anchor="end" >1.15</text>
<text x="326.50" y="27.80" font-family="'Liberation Sans', Arial, sans-serif" font-size="10" fill="#262626" text-anchor="end" >1.2</text>
<text x="331.70" y="205.40" font-family="'Liberation Sans', Arial, sans-serif" font-size="10" fill="#262626" text-anchor="end">10</text>
<text x="331.80" y="199.30" font-family="'Liberation Sans', Arial, sans-serif" font-size="8.2" fill="#262626" text-anchor="start">-4</text>
<text x="417.65" y="205.40" font-family="'Liberation Sans', Arial, sans-serif" font-size="10" fill="#262626" text-anchor="end">10</text>
<text x="417.75" y="199.30" font-family="'Liberation Sans', Arial, sans-serif" font-size="8.2" fill="#262626" text-anchor="start">-3</text>
<text x="503.59" y="205.40" font-family="'Liberation Sans', Arial, sans-serif" font-size="10" fill="#262626" text-anchor="end">10</text>
<text x="503.69" y="199.30" font-family="'Liberation Sans', Arial, sans-serif" font-size="8.2" fill="#262626" text-anchor="start">-2</text>
<text x="436.95" y="219.70" font-family="'Liberation Sans', Arial, sans-serif" font-size="11" fill="#262626" text-anchor="middle" >radius (m)</text>
<text transform="translate(298.10,132.00) rotate(-90)" font-family="'Liberation Sans', Arial, sans-serif" font-size="10.5" fill="#262626">K<tspan font-size="8.3" dy="5.0">11</tspan><tspan font-size="8.0" dx="-9.2" dy="-9.9" stroke="#262626" stroke-width="0.3">eff</tspan><tspan dy="5.1" dx="0.8"> (W/mK)</tspan></text>
<polyline points="330.50,47.42 543.40,47.42" fill="none" stroke="#111111" stroke-width="1.6"/>
<polyline points="330.50,162.95 332.27,162.75 334.05,162.54 335.82,162.33 337.60,162.10 339.37,161.87 341.14,161.62 342.92,161.36 344.69,161.10 346.47,160.82 348.24,160.52 350.02,160.22 351.79,159.90 353.56,159.57 355.34,159.23 357.11,158.87 358.89,158.49 360.66,158.10 362.44,157.69 364.21,157.27 365.98,156.83 367.76,156.37 369.53,155.89 371.31,155.40 373.08,154.88 374.85,154.34 376.63,153.79 378.40,153.21 380.18,152.61 381.95,151.99 383.73,151.35 385.50,150.68 387.27,149.99 389.05,149.28 390.82,148.54 392.60,147.78 394.37,146.99 396.14,146.18 397.92,145.34 399.69,144.47 401.47,143.58 403.24,142.66 405.01,141.72 406.79,140.75 408.56,139.75 410.34,138.73 412.11,137.68 413.89,136.61 415.66,135.51 417.43,134.38 419.21,133.23 420.98,132.06 422.76,130.86 424.53,129.64 426.31,128.40 428.08,127.13 429.85,125.85 431.63,124.55 433.40,123.23 435.18,121.89 436.95,120.53 438.72,119.16 440.50,117.78 442.27,116.39 444.05,114.98 445.82,113.57 447.60,112.15 449.37,110.72 451.14,109.29 452.92,107.86 454.69,106.43 456.47,104.99 458.24,103.56 460.01,102.14 461.79,100.71 463.56,99.30 465.34,97.90 467.11,96.50 468.88,95.12 470.66,93.75 472.43,92.39 474.21,91.05 475.98,89.73 477.76,88.42 479.53,87.14 481.30,85.87 483.08,84.63 484.85,83.41 486.63,82.21 488.40,81.03 490.17,79.88 491.95,78.75 493.72,77.65 495.50,76.57 497.27,75.52 499.05,74.50 500.82,73.50 502.59,72.53 504.37,71.58 506.14,70.66 507.92,69.77 509.69,68.90 511.46,68.06 513.24,67.25 515.01,66.46 516.79,65.69 518.56,64.95 520.34,64.24 522.11,63.54 523.88,62.88 525.66,62.23 527.43,61.61 529.21,61.01 530.98,60.43 532.75,59.87 534.53,59.33 536.30,58.82 538.08,58.32 539.85,57.84 541.63,57.38 543.40,56.94" fill="none" stroke="#e01419" stroke-width="1.3"/>
<line x1="338.83" y1="42.44" x2="338.83" y2="52.39" stroke="#111111" stroke-width="1.2"/>
<line x1="337.53" y1="42.44" x2="340.13" y2="42.44" stroke="#111111" stroke-width="1.2"/>
<line x1="337.53" y1="52.39" x2="340.13" y2="52.39" stroke="#111111" stroke-width="1.2"/>
<circle cx="338.83" cy="47.42" r="2.4" fill="white" stroke="#111111" stroke-width="1.4"/>
<line x1="364.70" y1="42.01" x2="364.70" y2="57.64" stroke="#111111" stroke-width="1.2"/>
<line x1="363.40" y1="42.01" x2="366.00" y2="42.01" stroke="#111111" stroke-width="1.2"/>
<line x1="363.40" y1="57.64" x2="366.00" y2="57.64" stroke="#111111" stroke-width="1.2"/>
<circle cx="364.70" cy="49.82" r="2.4" fill="white" stroke="#111111" stroke-width="1.4"/>
<line x1="390.57" y1="43.43" x2="390.57" y2="51.41" stroke="#111111" stroke-width="1.2"/>
<line x1="389.27" y1="43.43" x2="391.87" y2="43.43" stroke="#111111" stroke-width="1.2"/>
<line x1="389.27" y1="51.41" x2="391.87" y2="51.41" stroke="#111111" stroke-width="1.2"/>
<circle cx="390.57" cy="47.42" r="2.4" fill="white" stroke="#111111" stroke-width="1.4"/>
<line x1="416.45" y1="46.00" x2="416.45" y2="52.01" stroke="#111111" stroke-width="1.2"/>
<line x1="415.15" y1="46.00" x2="417.75" y2="46.00" stroke="#111111" stroke-width="1.2"/>
<line x1="415.15" y1="52.01" x2="417.75" y2="52.01" stroke="#111111" stroke-width="1.2"/>
<circle cx="416.45" cy="49.00" r="2.4" fill="white" stroke="#111111" stroke-width="1.4"/>
<line x1="476.52" y1="41.51" x2="476.52" y2="54.09" stroke="#111111" stroke-width="1.2"/>
<line x1="475.22" y1="41.51" x2="477.82" y2="41.51" stroke="#111111" stroke-width="1.2"/>
<line x1="475.22" y1="54.09" x2="477.82" y2="54.09" stroke="#111111" stroke-width="1.2"/>
<circle cx="476.52" cy="47.80" r="2.4" fill="white" stroke="#111111" stroke-width="1.4"/>
<line x1="536.59" y1="43.59" x2="536.59" y2="53.10" stroke="#111111" stroke-width="1.2"/>
<line x1="535.29" y1="43.59" x2="537.89" y2="43.59" stroke="#111111" stroke-width="1.2"/>
<line x1="535.29" y1="53.10" x2="537.89" y2="53.10" stroke="#111111" stroke-width="1.2"/>
<circle cx="536.59" cy="48.35" r="2.4" fill="white" stroke="#111111" stroke-width="1.4"/>
<polygon points="335.73,165.08 341.93,165.08 338.83,159.35" fill="white" stroke="#e01419" stroke-width="1.5" stroke-linejoin="miter"/>
<polygon points="361.60,159.61 367.80,159.61 364.70,153.88" fill="white" stroke="#e01419" stroke-width="1.5" stroke-linejoin="miter"/>
<polygon points="387.47,149.55 393.67,149.55 390.57,143.82" fill="white" stroke="#e01419" stroke-width="1.5" stroke-linejoin="miter"/>
<polygon points="413.35,136.16 419.55,136.16 416.45,130.43" fill="white" stroke="#e01419" stroke-width="1.5" stroke-linejoin="miter"/>
<line x1="476.52" y1="87.43" x2="476.52" y2="91.81" stroke="#e01419" stroke-width="1.1"/>
<line x1="475.22" y1="87.43" x2="477.82" y2="87.43" stroke="#e01419" stroke-width="1.1"/>
<line x1="475.22" y1="91.81" x2="477.82" y2="91.81" stroke="#e01419" stroke-width="1.1"/>
<polygon points="473.42,92.10 479.62,92.10 476.52,86.36" fill="white" stroke="#e01419" stroke-width="1.5" stroke-linejoin="miter"/>
<line x1="536.59" y1="56.93" x2="536.59" y2="65.46" stroke="#e01419" stroke-width="1.1"/>
<line x1="535.29" y1="56.93" x2="537.89" y2="56.93" stroke="#e01419" stroke-width="1.1"/>
<line x1="535.29" y1="65.46" x2="537.89" y2="65.46" stroke="#e01419" stroke-width="1.1"/>
<polygon points="533.49,63.67 539.69,63.67 536.59,57.94" fill="white" stroke="#e01419" stroke-width="1.5" stroke-linejoin="miter"/>
<text x="495.00" y="148.50" font-family="'Liberation Sans', Arial, sans-serif" font-size="10.4" fill="#1a1a1a" text-anchor="middle" stroke="#1a1a1a" stroke-width="0.15" textLength="29" lengthAdjust="spacingAndGlyphs">Theory</text>
<text x="531.30" y="148.50" font-family="'Liberation Sans', Arial, sans-serif" font-size="10.4" fill="#1a1a1a" text-anchor="middle" stroke="#1a1a1a" stroke-width="0.15" textLength="18.3" lengthAdjust="spacingAndGlyphs">FEA</text>
<line x1="485.70" y1="162.80" x2="499.90" y2="162.80" stroke="#111111" stroke-width="1.9"/>
<line x1="485.70" y1="177.00" x2="499.90" y2="177.00" stroke="#e01419" stroke-width="1.9"/>
<circle cx="528.10" cy="162.80" r="2.6" fill="white" stroke="#111111" stroke-width="1.75"/>
<polygon points="524.90,179.56 531.30,179.56 528.10,173.64" fill="white" stroke="#e01419" stroke-width="1.6" stroke-linejoin="miter"/>
<text transform="translate(391.90,166.40) rotate(0.00)" font-family="'Liberation Serif', 'DejaVu Serif', serif" font-size="10.8" fill="#262626" stroke="#262626" stroke-width="0.1"><tspan x="0" font-style="italic">α</tspan><tspan x="9.7">=</tspan><tspan x="19.5">0.000</tspan><tspan x="46.60" font-size="10.21">m</tspan><tspan font-size="7.56" dy="-3.4">2</tspan><tspan dy="3.4" font-size="10.21" letter-spacing="0.3">K/W</tspan></text>
<text transform="translate(391.90,180.90) rotate(0.00)" font-family="'Liberation Serif', 'DejaVu Serif', serif" font-size="10.8" fill="#e0303a" stroke="#e0303a" stroke-width="0.1"><tspan x="0" font-style="italic">α</tspan><tspan x="9.7">=</tspan><tspan x="19.5">0.001</tspan><tspan x="46.60" font-size="10.21">m</tspan><tspan font-size="7.56" dy="-3.4">2</tspan><tspan dy="3.4" font-size="10.21" letter-spacing="0.3">K/W</tspan></text>
<text x="281.30" y="248.50" font-family="'Liberation Sans', Arial, sans-serif" font-size="15" fill="#262626" text-anchor="start" >(e)</text>
<line x1="330.30" y1="421.70" x2="330.30" y2="419.50" stroke="#8c8c8c" stroke-width="0.8"/>
<line x1="330.30" y1="257.60" x2="330.30" y2="259.80" stroke="#8c8c8c" stroke-width="0.8"/>
<line x1="416.77" y1="421.70" x2="416.77" y2="419.50" stroke="#8c8c8c" stroke-width="0.8"/>
<line x1="416.77" y1="257.60" x2="416.77" y2="259.80" stroke="#8c8c8c" stroke-width="0.8"/>
<line x1="503.24" y1="421.70" x2="503.24" y2="419.50" stroke="#8c8c8c" stroke-width="0.8"/>
<line x1="503.24" y1="257.60" x2="503.24" y2="259.80" stroke="#8c8c8c" stroke-width="0.8"/>
<line x1="356.33" y1="421.70" x2="356.33" y2="420.38" stroke="#8c8c8c" stroke-width="0.7"/>
<line x1="356.33" y1="257.60" x2="356.33" y2="258.92" stroke="#8c8c8c" stroke-width="0.7"/>
<line x1="371.56" y1="421.70" x2="371.56" y2="420.38" stroke="#8c8c8c" stroke-width="0.7"/>
<line x1="371.56" y1="257.60" x2="371.56" y2="258.92" stroke="#8c8c8c" stroke-width="0.7"/>
<line x1="382.36" y1="421.70" x2="382.36" y2="420.38" stroke="#8c8c8c" stroke-width="0.7"/>
<line x1="382.36" y1="257.60" x2="382.36" y2="258.92" stroke="#8c8c8c" stroke-width="0.7"/>
<line x1="390.74" y1="421.70" x2="390.74" y2="420.38" stroke="#8c8c8c" stroke-width="0.7"/>
<line x1="390.74" y1="257.60" x2="390.74" y2="258.92" stroke="#8c8c8c" stroke-width="0.7"/>
<line x1="397.59" y1="421.70" x2="397.59" y2="420.38" stroke="#8c8c8c" stroke-width="0.7"/>
<line x1="397.59" y1="257.60" x2="397.59" y2="258.92" stroke="#8c8c8c" stroke-width="0.7"/>
<line x1="403.38" y1="421.70" x2="403.38" y2="420.38" stroke="#8c8c8c" stroke-width="0.7"/>
<line x1="403.38" y1="257.60" x2="403.38" y2="258.92" stroke="#8c8c8c" stroke-width="0.7"/>
<line x1="408.39" y1="421.70" x2="408.39" y2="420.38" stroke="#8c8c8c" stroke-width="0.7"/>
<line x1="408.39" y1="257.60" x2="408.39" y2="258.92" stroke="#8c8c8c" stroke-width="0.7"/>
<line x1="412.81" y1="421.70" x2="412.81" y2="420.38" stroke="#8c8c8c" stroke-width="0.7"/>
<line x1="412.81" y1="257.60" x2="412.81" y2="258.92" stroke="#8c8c8c" stroke-width="0.7"/>
<line x1="442.80" y1="421.70" x2="442.80" y2="420.38" stroke="#8c8c8c" stroke-width="0.7"/>
<line x1="442.80" y1="257.60" x2="442.80" y2="258.92" stroke="#8c8c8c" stroke-width="0.7"/>
<line x1="458.03" y1="421.70" x2="458.03" y2="420.38" stroke="#8c8c8c" stroke-width="0.7"/>
<line x1="458.03" y1="257.60" x2="458.03" y2="258.92" stroke="#8c8c8c" stroke-width="0.7"/>
<line x1="468.83" y1="421.70" x2="468.83" y2="420.38" stroke="#8c8c8c" stroke-width="0.7"/>
<line x1="468.83" y1="257.60" x2="468.83" y2="258.92" stroke="#8c8c8c" stroke-width="0.7"/>
<line x1="477.21" y1="421.70" x2="477.21" y2="420.38" stroke="#8c8c8c" stroke-width="0.7"/>
<line x1="477.21" y1="257.60" x2="477.21" y2="258.92" stroke="#8c8c8c" stroke-width="0.7"/>
<line x1="484.06" y1="421.70" x2="484.06" y2="420.38" stroke="#8c8c8c" stroke-width="0.7"/>
<line x1="484.06" y1="257.60" x2="484.06" y2="258.92" stroke="#8c8c8c" stroke-width="0.7"/>
<line x1="489.85" y1="421.70" x2="489.85" y2="420.38" stroke="#8c8c8c" stroke-width="0.7"/>
<line x1="489.85" y1="257.60" x2="489.85" y2="258.92" stroke="#8c8c8c" stroke-width="0.7"/>
<line x1="494.86" y1="421.70" x2="494.86" y2="420.38" stroke="#8c8c8c" stroke-width="0.7"/>
<line x1="494.86" y1="257.60" x2="494.86" y2="258.92" stroke="#8c8c8c" stroke-width="0.7"/>
<line x1="499.29" y1="421.70" x2="499.29" y2="420.38" stroke="#8c8c8c" stroke-width="0.7"/>
<line x1="499.29" y1="257.60" x2="499.29" y2="258.92" stroke="#8c8c8c" stroke-width="0.7"/>
<line x1="529.27" y1="421.70" x2="529.27" y2="420.38" stroke="#8c8c8c" stroke-width="0.7"/>
<line x1="529.27" y1="257.60" x2="529.27" y2="258.92" stroke="#8c8c8c" stroke-width="0.7"/>
<line x1="544.50" y1="421.70" x2="544.50" y2="420.38" stroke="#8c8c8c" stroke-width="0.7"/>
<line x1="544.50" y1="257.60" x2="544.50" y2="258.92" stroke="#8c8c8c" stroke-width="0.7"/>
<line x1="330.30" y1="421.70" x2="332.50" y2="421.70" stroke="#8c8c8c" stroke-width="0.8"/>
<line x1="544.50" y1="421.70" x2="542.30" y2="421.70" stroke="#8c8c8c" stroke-width="0.8"/>
<line x1="330.30" y1="380.67" x2="332.50" y2="380.67" stroke="#8c8c8c" stroke-width="0.8"/>
<line x1="544.50" y1="380.67" x2="542.30" y2="380.67" stroke="#8c8c8c" stroke-width="0.8"/>
<line x1="330.30" y1="339.65" x2="332.50" y2="339.65" stroke="#8c8c8c" stroke-width="0.8"/>
<line x1="544.50" y1="339.65" x2="542.30" y2="339.65" stroke="#8c8c8c" stroke-width="0.8"/>
<line x1="330.30" y1="298.62" x2="332.50" y2="298.62" stroke="#8c8c8c" stroke-width="0.8"/>
<line x1="544.50" y1="298.62" x2="542.30" y2="298.62" stroke="#8c8c8c" stroke-width="0.8"/>
<line x1="330.30" y1="257.60" x2="332.50" y2="257.60" stroke="#8c8c8c" stroke-width="0.8"/>
<line x1="544.50" y1="257.60" x2="542.30" y2="257.60" stroke="#8c8c8c" stroke-width="0.8"/>
<rect x="330.30" y="257.60" width="214.20" height="164.10" fill="none" stroke="#8c8c8c" stroke-width="1"/>
<text x="326.30" y="426.30" font-family="'Liberation Sans', Arial, sans-serif" font-size="10" fill="#262626" text-anchor="end" >1.8</text>
<text x="326.30" y="385.27" font-family="'Liberation Sans', Arial, sans-serif" font-size="10" fill="#262626" text-anchor="end" >1.9</text>
<text x="326.30" y="344.25" font-family="'Liberation Sans', Arial, sans-serif" font-size="10" fill="#262626" text-anchor="end" >2</text>
<text x="326.30" y="303.23" font-family="'Liberation Sans', Arial, sans-serif" font-size="10" fill="#262626" text-anchor="end" >2.1</text>
<text x="326.30" y="262.20" font-family="'Liberation Sans', Arial, sans-serif" font-size="10" fill="#262626" text-anchor="end" >2.2</text>
<text x="331.50" y="439.90" font-family="'Liberation Sans', Arial, sans-serif" font-size="10" fill="#262626" text-anchor="end">10</text>
<text x="331.60" y="433.80" font-family="'Liberation Sans', Arial, sans-serif" font-size="8.2" fill="#262626" text-anchor="start">-4</text>
<text x="417.97" y="439.90" font-family="'Liberation Sans', Arial, sans-serif" font-size="10" fill="#262626" text-anchor="end">10</text>
<text x="418.07" y="433.80" font-family="'Liberation Sans', Arial, sans-serif" font-size="8.2" fill="#262626" text-anchor="start">-3</text>
<text x="504.44" y="439.90" font-family="'Liberation Sans', Arial, sans-serif" font-size="10" fill="#262626" text-anchor="end">10</text>
<text x="504.54" y="433.80" font-family="'Liberation Sans', Arial, sans-serif" font-size="8.2" fill="#262626" text-anchor="start">-2</text>
<text x="437.40" y="454.20" font-family="'Liberation Sans', Arial, sans-serif" font-size="11" fill="#262626" text-anchor="middle" >radius (m)</text>
<text transform="translate(302.95,367.90) rotate(-90)" font-family="'Liberation Sans', Arial, sans-serif" font-size="11.2" fill="#262626">K<tspan font-size="8.3" dy="5.0">22</tspan><tspan font-size="8.0" dx="-9.2" dy="-9.9" stroke="#262626" stroke-width="0.3">eff</tspan><tspan dy="5.1" dx="0.8"> (W/mK)</tspan></text>
<polyline points="330.30,268.18 544.50,268.18" fill="none" stroke="#111111" stroke-width="1.6"/>
<polyline points="330.30,396.32 332.08,396.10 333.87,395.88 335.66,395.65 337.44,395.41 339.23,395.16 341.01,394.90 342.80,394.62 344.58,394.34 346.37,394.04 348.15,393.73 349.94,393.40 351.72,393.06 353.51,392.71 355.29,392.34 357.07,391.96 358.86,391.56 360.64,391.15 362.43,390.72 364.22,390.27 366.00,389.80 367.79,389.31 369.57,388.81 371.36,388.28 373.14,387.73 374.93,387.17 376.71,386.58 378.50,385.97 380.28,385.33 382.06,384.68 383.85,384.00 385.63,383.29 387.42,382.56 389.21,381.81 390.99,381.03 392.78,380.22 394.56,379.39 396.34,378.53 398.13,377.64 399.92,376.72 401.70,375.78 403.49,374.81 405.27,373.81 407.06,372.78 408.84,371.73 410.62,370.64 412.41,369.53 414.19,368.39 415.98,367.22 417.76,366.03 419.55,364.81 421.34,363.56 423.12,362.28 424.91,360.98 426.69,359.66 428.48,358.31 430.26,356.94 432.04,355.54 433.83,354.13 435.62,352.69 437.40,351.24 439.19,349.76 440.97,348.28 442.75,346.77 444.54,345.26 446.32,343.73 448.11,342.19 449.89,340.65 451.68,339.09 453.46,337.53 455.25,335.97 457.04,334.41 458.82,332.84 460.61,331.28 462.39,329.72 464.18,328.17 465.96,326.62 467.75,325.08 469.53,323.55 471.31,322.03 473.10,320.53 474.89,319.03 476.67,317.56 478.46,316.10 480.24,314.66 482.02,313.24 483.81,311.85 485.60,310.47 487.38,309.12 489.17,307.79 490.95,306.48 492.74,305.20 494.52,303.95 496.31,302.72 498.09,301.52 499.88,300.35 501.66,299.20 503.44,298.09 505.23,297.00 507.01,295.94 508.80,294.90 510.59,293.90 512.37,292.92 514.15,291.98 515.94,291.06 517.73,290.16 519.51,289.30 521.30,288.46 523.08,287.65 524.87,286.86 526.65,286.10 528.43,285.37 530.22,284.66 532.00,283.98 533.79,283.31 535.58,282.68 537.36,282.06 539.14,281.47 540.93,280.90 542.72,280.35 544.50,279.82" fill="none" stroke="#e01419" stroke-width="1.3"/>
<line x1="338.68" y1="263.67" x2="338.68" y2="273.27" stroke="#111111" stroke-width="1.2"/>
<line x1="337.38" y1="263.67" x2="339.98" y2="263.67" stroke="#111111" stroke-width="1.2"/>
<line x1="337.38" y1="273.27" x2="339.98" y2="273.27" stroke="#111111" stroke-width="1.2"/>
<circle cx="338.68" cy="268.47" r="2.4" fill="white" stroke="#111111" stroke-width="1.4"/>
<line x1="364.71" y1="264.00" x2="364.71" y2="271.79" stroke="#111111" stroke-width="1.2"/>
<line x1="363.41" y1="264.00" x2="366.01" y2="264.00" stroke="#111111" stroke-width="1.2"/>
<line x1="363.41" y1="271.79" x2="366.01" y2="271.79" stroke="#111111" stroke-width="1.2"/>
<circle cx="364.71" cy="267.90" r="2.4" fill="white" stroke="#111111" stroke-width="1.4"/>
<line x1="390.74" y1="266.05" x2="390.74" y2="268.51" stroke="#111111" stroke-width="1.2"/>
<line x1="389.44" y1="266.05" x2="392.04" y2="266.05" stroke="#111111" stroke-width="1.2"/>
<line x1="389.44" y1="268.51" x2="392.04" y2="268.51" stroke="#111111" stroke-width="1.2"/>
<circle cx="390.74" cy="267.28" r="2.4" fill="white" stroke="#111111" stroke-width="1.4"/>
<circle cx="416.77" cy="268.59" r="2.4" fill="white" stroke="#111111" stroke-width="1.4"/>
<line x1="477.21" y1="262.32" x2="477.21" y2="272.49" stroke="#111111" stroke-width="1.2"/>
<line x1="475.91" y1="262.32" x2="478.51" y2="262.32" stroke="#111111" stroke-width="1.2"/>
<line x1="475.91" y1="272.49" x2="478.51" y2="272.49" stroke="#111111" stroke-width="1.2"/>
<circle cx="477.21" cy="267.40" r="2.4" fill="white" stroke="#111111" stroke-width="1.4"/>
<line x1="537.65" y1="267.65" x2="537.65" y2="269.29" stroke="#111111" stroke-width="1.2"/>
<line x1="536.35" y1="267.65" x2="538.95" y2="267.65" stroke="#111111" stroke-width="1.2"/>
<line x1="536.35" y1="269.29" x2="538.95" y2="269.29" stroke="#111111" stroke-width="1.2"/>
<circle cx="537.65" cy="268.47" r="2.4" fill="white" stroke="#111111" stroke-width="1.4"/>
<polygon points="335.58,399.77 341.78,399.77 338.68,394.04" fill="white" stroke="#e01419" stroke-width="1.5" stroke-linejoin="miter"/>
<polygon points="361.61,394.03 367.81,394.03 364.71,388.29" fill="white" stroke="#e01419" stroke-width="1.5" stroke-linejoin="miter"/>
<polygon points="387.64,383.98 393.84,383.98 390.74,378.24" fill="white" stroke="#e01419" stroke-width="1.5" stroke-linejoin="miter"/>
<polygon points="413.67,370.03 419.87,370.03 416.77,364.29" fill="white" stroke="#e01419" stroke-width="1.5" stroke-linejoin="miter"/>
<line x1="477.21" y1="316.68" x2="477.21" y2="319.14" stroke="#e01419" stroke-width="1.1"/>
<line x1="475.91" y1="316.68" x2="478.51" y2="316.68" stroke="#e01419" stroke-width="1.1"/>
<line x1="475.91" y1="319.14" x2="478.51" y2="319.14" stroke="#e01419" stroke-width="1.1"/>
<polygon points="474.11,320.39 480.31,320.39 477.21,314.65" fill="white" stroke="#e01419" stroke-width="1.5" stroke-linejoin="miter"/>
<polygon points="534.55,286.54 540.75,286.54 537.65,280.81" fill="white" stroke="#e01419" stroke-width="1.5" stroke-linejoin="miter"/>
<text x="492.60" y="383.50" font-family="'Liberation Sans', Arial, sans-serif" font-size="10.4" fill="#1a1a1a" text-anchor="middle" stroke="#1a1a1a" stroke-width="0.15" textLength="29" lengthAdjust="spacingAndGlyphs">Theory</text>
<text x="528.10" y="383.50" font-family="'Liberation Sans', Arial, sans-serif" font-size="10.4" fill="#1a1a1a" text-anchor="middle" stroke="#1a1a1a" stroke-width="0.15" textLength="18.3" lengthAdjust="spacingAndGlyphs">FEA</text>
<line x1="482.90" y1="397.40" x2="497.40" y2="397.40" stroke="#111111" stroke-width="1.9"/>
<line x1="482.90" y1="411.80" x2="497.40" y2="411.80" stroke="#e01419" stroke-width="1.9"/>
<circle cx="525.60" cy="397.40" r="2.6" fill="white" stroke="#111111" stroke-width="1.75"/>
<polygon points="522.40,414.36 528.80,414.36 525.60,408.44" fill="white" stroke="#e01419" stroke-width="1.6" stroke-linejoin="miter"/>
<text transform="translate(390.30,401.10) rotate(0.00)" font-family="'Liberation Serif', 'DejaVu Serif', serif" font-size="10.8" fill="#262626" stroke="#262626" stroke-width="0.1"><tspan x="0" font-style="italic">α</tspan><tspan x="9.7">=</tspan><tspan x="19.5">0.000</tspan><tspan x="46.60" font-size="10.21">m</tspan><tspan font-size="7.56" dy="-3.4">2</tspan><tspan dy="3.4" font-size="10.21" letter-spacing="0.3">K/W</tspan></text>
<text transform="translate(390.30,414.90) rotate(0.00)" font-family="'Liberation Serif', 'DejaVu Serif', serif" font-size="10.8" fill="#e0303a" stroke="#e0303a" stroke-width="0.1"><tspan x="0" font-style="italic">α</tspan><tspan x="9.7">=</tspan><tspan x="19.5">0.001</tspan><tspan x="46.60" font-size="10.21">m</tspan><tspan font-size="7.56" dy="-3.4">2</tspan><tspan dy="3.4" font-size="10.21" letter-spacing="0.3">K/W</tspan></text>
<text x="281.30" y="474.50" font-family="'Liberation Sans', Arial, sans-serif" font-size="15" fill="#262626" text-anchor="start" >(f)</text>
<line x1="327.50" y1="647.80" x2="327.50" y2="645.60" stroke="#8c8c8c" stroke-width="0.8"/>
<line x1="327.50" y1="484.20" x2="327.50" y2="486.40" stroke="#8c8c8c" stroke-width="0.8"/>
<line x1="415.55" y1="647.80" x2="415.55" y2="645.60" stroke="#8c8c8c" stroke-width="0.8"/>
<line x1="415.55" y1="484.20" x2="415.55" y2="486.40" stroke="#8c8c8c" stroke-width="0.8"/>
<line x1="503.59" y1="647.80" x2="503.59" y2="645.60" stroke="#8c8c8c" stroke-width="0.8"/>
<line x1="503.59" y1="484.20" x2="503.59" y2="486.40" stroke="#8c8c8c" stroke-width="0.8"/>
<line x1="354.00" y1="647.80" x2="354.00" y2="646.48" stroke="#8c8c8c" stroke-width="0.7"/>
<line x1="354.00" y1="484.20" x2="354.00" y2="485.52" stroke="#8c8c8c" stroke-width="0.7"/>
<line x1="369.51" y1="647.80" x2="369.51" y2="646.48" stroke="#8c8c8c" stroke-width="0.7"/>
<line x1="369.51" y1="484.20" x2="369.51" y2="485.52" stroke="#8c8c8c" stroke-width="0.7"/>
<line x1="380.51" y1="647.80" x2="380.51" y2="646.48" stroke="#8c8c8c" stroke-width="0.7"/>
<line x1="380.51" y1="484.20" x2="380.51" y2="485.52" stroke="#8c8c8c" stroke-width="0.7"/>
<line x1="389.04" y1="647.80" x2="389.04" y2="646.48" stroke="#8c8c8c" stroke-width="0.7"/>
<line x1="389.04" y1="484.20" x2="389.04" y2="485.52" stroke="#8c8c8c" stroke-width="0.7"/>
<line x1="396.01" y1="647.80" x2="396.01" y2="646.48" stroke="#8c8c8c" stroke-width="0.7"/>
<line x1="396.01" y1="484.20" x2="396.01" y2="485.52" stroke="#8c8c8c" stroke-width="0.7"/>
<line x1="401.91" y1="647.80" x2="401.91" y2="646.48" stroke="#8c8c8c" stroke-width="0.7"/>
<line x1="401.91" y1="484.20" x2="401.91" y2="485.52" stroke="#8c8c8c" stroke-width="0.7"/>
<line x1="407.01" y1="647.80" x2="407.01" y2="646.48" stroke="#8c8c8c" stroke-width="0.7"/>
<line x1="407.01" y1="484.20" x2="407.01" y2="485.52" stroke="#8c8c8c" stroke-width="0.7"/>
<line x1="411.52" y1="647.80" x2="411.52" y2="646.48" stroke="#8c8c8c" stroke-width="0.7"/>
<line x1="411.52" y1="484.20" x2="411.52" y2="485.52" stroke="#8c8c8c" stroke-width="0.7"/>
<line x1="442.05" y1="647.80" x2="442.05" y2="646.48" stroke="#8c8c8c" stroke-width="0.7"/>
<line x1="442.05" y1="484.20" x2="442.05" y2="485.52" stroke="#8c8c8c" stroke-width="0.7"/>
<line x1="457.55" y1="647.80" x2="457.55" y2="646.48" stroke="#8c8c8c" stroke-width="0.7"/>
<line x1="457.55" y1="484.20" x2="457.55" y2="485.52" stroke="#8c8c8c" stroke-width="0.7"/>
<line x1="468.55" y1="647.80" x2="468.55" y2="646.48" stroke="#8c8c8c" stroke-width="0.7"/>
<line x1="468.55" y1="484.20" x2="468.55" y2="485.52" stroke="#8c8c8c" stroke-width="0.7"/>
<line x1="477.09" y1="647.80" x2="477.09" y2="646.48" stroke="#8c8c8c" stroke-width="0.7"/>
<line x1="477.09" y1="484.20" x2="477.09" y2="485.52" stroke="#8c8c8c" stroke-width="0.7"/>
<line x1="484.06" y1="647.80" x2="484.06" y2="646.48" stroke="#8c8c8c" stroke-width="0.7"/>
<line x1="484.06" y1="484.20" x2="484.06" y2="485.52" stroke="#8c8c8c" stroke-width="0.7"/>
<line x1="489.95" y1="647.80" x2="489.95" y2="646.48" stroke="#8c8c8c" stroke-width="0.7"/>
<line x1="489.95" y1="484.20" x2="489.95" y2="485.52" stroke="#8c8c8c" stroke-width="0.7"/>
<line x1="495.06" y1="647.80" x2="495.06" y2="646.48" stroke="#8c8c8c" stroke-width="0.7"/>
<line x1="495.06" y1="484.20" x2="495.06" y2="485.52" stroke="#8c8c8c" stroke-width="0.7"/>
<line x1="499.56" y1="647.80" x2="499.56" y2="646.48" stroke="#8c8c8c" stroke-width="0.7"/>
<line x1="499.56" y1="484.20" x2="499.56" y2="485.52" stroke="#8c8c8c" stroke-width="0.7"/>
<line x1="530.10" y1="647.80" x2="530.10" y2="646.48" stroke="#8c8c8c" stroke-width="0.7"/>
<line x1="530.10" y1="484.20" x2="530.10" y2="485.52" stroke="#8c8c8c" stroke-width="0.7"/>
<line x1="545.60" y1="647.80" x2="545.60" y2="646.48" stroke="#8c8c8c" stroke-width="0.7"/>
<line x1="545.60" y1="484.20" x2="545.60" y2="485.52" stroke="#8c8c8c" stroke-width="0.7"/>
<line x1="327.50" y1="647.80" x2="329.70" y2="647.80" stroke="#8c8c8c" stroke-width="0.8"/>
<line x1="545.60" y1="647.80" x2="543.40" y2="647.80" stroke="#8c8c8c" stroke-width="0.8"/>
<line x1="327.50" y1="615.08" x2="329.70" y2="615.08" stroke="#8c8c8c" stroke-width="0.8"/>
<line x1="545.60" y1="615.08" x2="543.40" y2="615.08" stroke="#8c8c8c" stroke-width="0.8"/>
<line x1="327.50" y1="582.36" x2="329.70" y2="582.36" stroke="#8c8c8c" stroke-width="0.8"/>
<line x1="545.60" y1="582.36" x2="543.40" y2="582.36" stroke="#8c8c8c" stroke-width="0.8"/>
<line x1="327.50" y1="549.64" x2="329.70" y2="549.64" stroke="#8c8c8c" stroke-width="0.8"/>
<line x1="545.60" y1="549.64" x2="543.40" y2="549.64" stroke="#8c8c8c" stroke-width="0.8"/>
<line x1="327.50" y1="516.92" x2="329.70" y2="516.92" stroke="#8c8c8c" stroke-width="0.8"/>
<line x1="545.60" y1="516.92" x2="543.40" y2="516.92" stroke="#8c8c8c" stroke-width="0.8"/>
<line x1="327.50" y1="484.20" x2="329.70" y2="484.20" stroke="#8c8c8c" stroke-width="0.8"/>
<line x1="545.60" y1="484.20" x2="543.40" y2="484.20" stroke="#8c8c8c" stroke-width="0.8"/>
<rect x="327.50" y="484.20" width="218.10" height="163.60" fill="none" stroke="#8c8c8c" stroke-width="1"/>
<text x="323.50" y="652.40" font-family="'Liberation Sans', Arial, sans-serif" font-size="10" fill="#262626" text-anchor="end" >2.7</text>
<text x="323.50" y="619.68" font-family="'Liberation Sans', Arial, sans-serif" font-size="10" fill="#262626" text-anchor="end" >2.8</text>
<text x="323.50" y="586.96" font-family="'Liberation Sans', Arial, sans-serif" font-size="10" fill="#262626" text-anchor="end" >2.9</text>
<text x="323.50" y="554.24" font-family="'Liberation Sans', Arial, sans-serif" font-size="10" fill="#262626" text-anchor="end" >3</text>
<text x="323.50" y="521.52" font-family="'Liberation Sans', Arial, sans-serif" font-size="10" fill="#262626" text-anchor="end" >3.1</text>
<text x="323.50" y="488.80" font-family="'Liberation Sans', Arial, sans-serif" font-size="10" fill="#262626" text-anchor="end" >3.2</text>
<text x="328.70" y="666.00" font-family="'Liberation Sans', Arial, sans-serif" font-size="10" fill="#262626" text-anchor="end">10</text>
<text x="328.80" y="659.90" font-family="'Liberation Sans', Arial, sans-serif" font-size="8.2" fill="#262626" text-anchor="start">-4</text>
<text x="416.75" y="666.00" font-family="'Liberation Sans', Arial, sans-serif" font-size="10" fill="#262626" text-anchor="end">10</text>
<text x="416.85" y="659.90" font-family="'Liberation Sans', Arial, sans-serif" font-size="8.2" fill="#262626" text-anchor="start">-3</text>
<text x="504.79" y="666.00" font-family="'Liberation Sans', Arial, sans-serif" font-size="10" fill="#262626" text-anchor="end">10</text>
<text x="504.89" y="659.90" font-family="'Liberation Sans', Arial, sans-serif" font-size="8.2" fill="#262626" text-anchor="start">-2</text>
<text x="436.55" y="680.30" font-family="'Liberation Sans', Arial, sans-serif" font-size="11" fill="#262626" text-anchor="middle" >radius (m)</text>
<text transform="translate(300.90,592.90) rotate(-90)" font-family="'Liberation Sans', Arial, sans-serif" font-size="10.5" fill="#262626">K<tspan font-size="8.3" dy="5.0">33</tspan><tspan font-size="8.0" dx="-9.2" dy="-9.9" stroke="#262626" stroke-width="0.3">eff</tspan><tspan dy="5.1" dx="0.8"> (W/mK)</tspan></text>
<polyline points="327.50,490.74 545.60,490.74" fill="none" stroke="#111111" stroke-width="1.6"/>
<polyline points="327.50,628.68 329.32,628.46 331.13,628.23 332.95,628.00 334.77,627.75 336.59,627.49 338.40,627.22 340.22,626.94 342.04,626.64 343.86,626.33 345.68,626.01 347.49,625.68 349.31,625.33 351.13,624.96 352.94,624.58 354.76,624.19 356.58,623.77 358.40,623.34 360.22,622.90 362.03,622.43 363.85,621.95 365.67,621.44 367.49,620.92 369.30,620.37 371.12,619.80 372.94,619.21 374.75,618.60 376.57,617.97 378.39,617.31 380.21,616.62 382.02,615.91 383.84,615.18 385.66,614.42 387.48,613.63 389.30,612.81 391.11,611.97 392.93,611.10 394.75,610.19 396.57,609.26 398.38,608.30 400.20,607.31 402.02,606.29 403.83,605.24 405.65,604.16 407.47,603.05 409.29,601.91 411.11,600.73 412.92,599.53 414.74,598.29 416.56,597.03 418.38,595.74 420.19,594.41 422.01,593.06 423.83,591.68 425.64,590.27 427.46,588.83 429.28,587.37 431.10,585.89 432.92,584.38 434.73,582.84 436.55,581.29 438.37,579.72 440.19,578.12 442.00,576.51 443.82,574.88 445.64,573.24 447.46,571.59 449.27,569.93 451.09,568.25 452.91,566.57 454.73,564.89 456.54,563.20 458.36,561.50 460.18,559.81 462.00,558.12 463.81,556.44 465.63,554.76 467.45,553.09 469.26,551.42 471.08,549.77 472.90,548.13 474.72,546.51 476.53,544.90 478.35,543.31 480.17,541.74 481.99,540.19 483.81,538.66 485.62,537.15 487.44,535.67 489.26,534.21 491.08,532.78 492.89,531.38 494.71,530.00 496.53,528.65 498.35,527.34 500.16,526.05 501.98,524.79 503.80,523.56 505.62,522.36 507.43,521.19 509.25,520.05 511.07,518.94 512.88,517.87 514.70,516.82 516.52,515.81 518.34,514.82 520.15,513.86 521.97,512.94 523.79,512.04 525.61,511.17 527.42,510.33 529.24,509.52 531.06,508.74 532.88,507.98 534.70,507.25 536.51,506.54 538.33,505.86 540.15,505.21 541.96,504.58 543.78,503.97 545.60,503.38" fill="none" stroke="#e01419" stroke-width="1.3"/>
<circle cx="336.03" cy="490.74" r="2.4" fill="white" stroke="#111111" stroke-width="1.4"/>
<circle cx="362.54" cy="490.74" r="2.4" fill="white" stroke="#111111" stroke-width="1.4"/>
<circle cx="389.04" cy="490.74" r="2.4" fill="white" stroke="#111111" stroke-width="1.4"/>
<circle cx="415.55" cy="490.74" r="2.4" fill="white" stroke="#111111" stroke-width="1.4"/>
<circle cx="477.09" cy="490.74" r="2.4" fill="white" stroke="#111111" stroke-width="1.4"/>
<circle cx="538.63" cy="490.74" r="2.4" fill="white" stroke="#111111" stroke-width="1.4"/>
<line x1="336.03" y1="627.81" x2="336.03" y2="632.72" stroke="#e01419" stroke-width="1.1"/>
<line x1="334.73" y1="627.81" x2="337.33" y2="627.81" stroke="#e01419" stroke-width="1.1"/>
<line x1="334.73" y1="632.72" x2="337.33" y2="632.72" stroke="#e01419" stroke-width="1.1"/>
<polygon points="332.93,632.74 339.13,632.74 336.03,627.01" fill="white" stroke="#e01419" stroke-width="1.5" stroke-linejoin="miter"/>
<line x1="362.54" y1="622.28" x2="362.54" y2="626.20" stroke="#e01419" stroke-width="1.1"/>
<line x1="361.24" y1="622.28" x2="363.84" y2="622.28" stroke="#e01419" stroke-width="1.1"/>
<line x1="361.24" y1="626.20" x2="363.84" y2="626.20" stroke="#e01419" stroke-width="1.1"/>
<polygon points="359.44,626.72 365.64,626.72 362.54,620.99" fill="white" stroke="#e01419" stroke-width="1.5" stroke-linejoin="miter"/>
<polygon points="385.94,616.87 392.14,616.87 389.04,611.14" fill="white" stroke="#e01419" stroke-width="1.5" stroke-linejoin="miter"/>
<polygon points="412.45,601.20 418.65,601.20 415.55,595.47" fill="white" stroke="#e01419" stroke-width="1.5" stroke-linejoin="miter"/>
<polygon points="473.99,547.18 480.19,547.18 477.09,541.44" fill="white" stroke="#e01419" stroke-width="1.5" stroke-linejoin="miter"/>
<polygon points="535.53,509.68 541.73,509.68 538.63,503.95" fill="white" stroke="#e01419" stroke-width="1.5" stroke-linejoin="miter"/>
<text x="499.30" y="609.20" font-family="'Liberation Sans', Arial, sans-serif" font-size="10.4" fill="#1a1a1a" text-anchor="middle" stroke="#1a1a1a" stroke-width="0.15" textLength="29" lengthAdjust="spacingAndGlyphs">Theory</text>
<text x="534.40" y="609.20" font-family="'Liberation Sans', Arial, sans-serif" font-size="10.4" fill="#1a1a1a" text-anchor="middle" stroke="#1a1a1a" stroke-width="0.15" textLength="18.3" lengthAdjust="spacingAndGlyphs">FEA</text>
<line x1="489.60" y1="623.10" x2="503.40" y2="623.10" stroke="#111111" stroke-width="1.9"/>
<line x1="489.60" y1="637.90" x2="503.40" y2="637.90" stroke="#e01419" stroke-width="1.9"/>
<circle cx="531.80" cy="623.10" r="2.6" fill="white" stroke="#111111" stroke-width="1.75"/>
<polygon points="528.60,640.46 535.00,640.46 531.80,634.54" fill="white" stroke="#e01419" stroke-width="1.6" stroke-linejoin="miter"/>
<text transform="translate(396.50,627.30) rotate(0.00)" font-family="'Liberation Serif', 'DejaVu Serif', serif" font-size="10.8" fill="#262626" stroke="#262626" stroke-width="0.1"><tspan x="0" font-style="italic">α</tspan><tspan x="9.7">=</tspan><tspan x="19.5">0.000</tspan><tspan x="46.60" font-size="10.21">m</tspan><tspan font-size="7.56" dy="-3.4">2</tspan><tspan dy="3.4" font-size="10.21" letter-spacing="0.3">K/W</tspan></text>
<text transform="translate(396.50,641.00) rotate(0.00)" font-family="'Liberation Serif', 'DejaVu Serif', serif" font-size="10.8" fill="#e0303a" stroke="#e0303a" stroke-width="0.1"><tspan x="0" font-style="italic">α</tspan><tspan x="9.7">=</tspan><tspan x="19.5">0.001</tspan><tspan x="46.60" font-size="10.21">m</tspan><tspan font-size="7.56" dy="-3.4">2</tspan><tspan dy="3.4" font-size="10.21" letter-spacing="0.3">K/W</tspan></text></svg></body></html>
